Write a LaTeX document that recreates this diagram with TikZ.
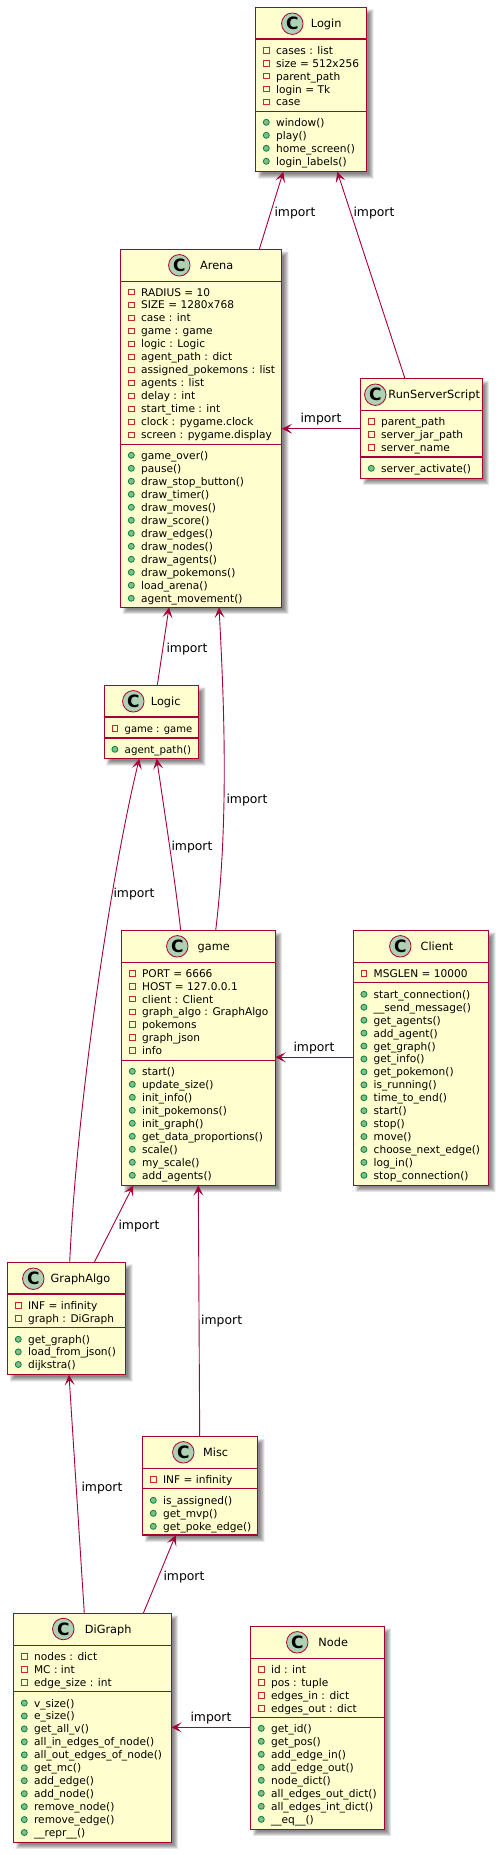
\documentclass[tikz,border=0pt]{standalone}
\usepackage{fontspec}
\setmainfont{DejaVu Sans}
\usetikzlibrary{arrows.meta}
\definecolor{umlline}{HTML}{A80036}
\definecolor{umlfill}{HTML}{FEFECE}
\definecolor{umlcirc}{HTML}{ADD1B2}
\definecolor{attrred}{HTML}{C82930}
\definecolor{methfill}{HTML}{84BE84}
\definecolor{methline}{HTML}{038048}
\newcounter{rowcnt}
\tikzset{
  classbox/.style={draw=umlline,fill=umlfill,line width=1.4pt,inner sep=0pt,outer sep=0pt},
  classline/.style={draw=umlline,line width=1.2pt},
  shadowlayer/.style={fill=black,opacity=.055,draw=none},
  ciconnode/.style={circle,draw=umlline,fill=umlcirc,line width=.8pt,minimum size=21.5pt,inner sep=0pt,
     font=\fontsize{17}{17}\bfseries\selectfont,text=black},
  titletext/.style={anchor=base,inner sep=0pt,font=\fontsize{11.3}{13}\selectfont,text=black},
  rowtext/.style={anchor=base west,inner sep=0pt,font=\fontsize{10.6}{13}\selectfont,text=black},
  attricon/.style={rectangle,draw=attrred,line width=.9pt,minimum size=5.6pt,inner sep=0pt},
  methicon/.style={circle,draw=methline,fill=methfill,line width=.8pt,minimum size=6pt,inner sep=0pt},
  edgeline/.style={draw=umlline,line width=.9pt,-{Stealth[length=10.5pt,width=10pt,inset=5pt]}},
  importlabel/.style={anchor=base west,inner sep=0pt,font=\fontsize{12.4}{14}\selectfont,text=black},
}
% name, x1, y1, x2, y2, header sep y, attr sep y
\newcommand{\umlclass}[7]{%
  \pgfmathsetlengthmacro{\bw}{#4-#2}\pgfmathsetlengthmacro{\bh}{#5-#3}%
  \foreach \d in {2.5,2,1.5,1,0.5,0,-0.5,-1,-1.5,-2,-2.5}{%
    \fill[shadowlayer] ({#2+4.5-\d},{#3+4.5-\d}) rectangle ({#4+4.5+\d},{#5+4.5+\d});}%
  \node[classbox,anchor=north west,minimum width=\bw,minimum height=\bh] (#1) at (#2,#3) {};%
  \draw[classline] (#2,#6) -- (#4,#6);%
  \draw[classline] (#2,#7) -- (#4,#7);%
}
% name, circle x, y, text centre x, title
\newcommand{\umltitle}[5]{%
  \node[ciconnode] (#1-c) at (#2,#3) {C};%
  \node[titletext] (#1-t) at (#4,#3+4.2) {#5};%
}
% left x, first y, step, list
\newcommand{\umlattrs}[4]{%
  \foreach \t [count=\i from 0] in {#4}{%
    \stepcounter{rowcnt}%
    \pgfmathsetmacro{\yy}{#2+#3*\i}%
    \node[attricon] (ia\arabic{rowcnt}) at (#1+10.6,\yy) {};%
    \node[rowtext] (ra\arabic{rowcnt}) at (#1+20.2,\yy+4) {\t};%
  }%
}
\newcommand{\umlmeths}[4]{%
  \foreach \t [count=\i from 0] in {#4}{%
    \stepcounter{rowcnt}%
    \pgfmathsetmacro{\yy}{#2+#3*\i}%
    \node[methicon] (im\arabic{rowcnt}) at (#1+10.6,\yy) {};%
    \node[rowtext] (rm\arabic{rowcnt}) at (#1+20.2,\yy+4) {\t};%
  }%
}
\begin{document}
\begin{tikzpicture}[x=1pt,y=-1pt]
\useasboundingbox (0,0) rectangle (501,1855);

% Login
\umlclass{login}{255.7}{7.3}{366.7}{171.7}{39}{111.3}
\umltitle{login}{292.3}{23.7}{326.2}{Login}
\umlattrs{255.7}{50.3}{12.9}{cases : list,size = 512x256,parent\_path,login = Tk,case}
\umlmeths{255.7}{122.3}{13}{window(),play(),home\_screen(),login\_labels()}

% Arena
\umlclass{arena}{120.7}{249.3}{281.7}{607.3}{281.7}{444.3}
\umltitle{arena}{179.3}{265.3}{216.7}{Arena}
\umlattrs{120.7}{292}{12.98}{RADIUS = 10,SIZE = 1280x768,case : int,game : game,logic : Logic,agent\_path : dict,assigned\_pokemons : list,agents : list,delay : int,start\_time : int,clock : pygame.clock,screen : pygame.display}
\umlmeths{120.7}{455.3}{13}{game\_over(),pause(),draw\_stop\_button(),draw\_timer(),draw\_moves(),draw\_score(),draw\_edges(),draw\_nodes(),draw\_agents(),draw\_pokemons(),load\_arena(),agent\_movement()}

% RunServerScript
\umlclass{rss}{360.7}{378.7}{482.3}{478.3}{410.3}{457}
\umltitle{rss}{375.3}{394.7}{434.2}{RunServerScript}
\umlattrs{360.7}{421.3}{13}{parent\_path,server\_jar\_path,server\_name}
\umlmeths{360.7}{468.3}{13}{server\_activate()}

% Logic
\umlclass{logic}{104.3}{685.3}{198.7}{758.7}{717}{738}
\umltitle{logic}{133.3}{701.3}{165.7}{Logic}
\umlattrs{104.3}{728.3}{13}{\fontsize{10}{13}\selectfont game : game}
\umlmeths{104.3}{749.3}{13}{\fontsize{10.3}{13}\selectfont agent\_path()}

% game
\umlclass{game}{121.7}{930.3}{275.3}{1185.3}{962.3}{1060.3}
\umltitle{game}{177.3}{946.3}{213.7}{game}
\umlattrs{121.7}{973.3}{12.85}{PORT = 6666,HOST = 127.0.0.1,client : Client,graph\_algo : GraphAlgo,pokemons,graph\_json,info}
\umlmeths{121.7}{1071.3}{13}{start(),update\_size(),init\_info(),init\_pokemons(),init\_graph(),get\_data\_proportions(),scale(),my\_scale(),add\_agents()}

% Client
\umlclass{client}{353.3}{930.3}{488.7}{1185.3}{962.3}{982.3}
\umltitle{client}{400.3}{946.3}{437}{Client}
\umlattrs{353.3}{973.3}{13}{MSGLEN = 10000}
\umlmeths{353.3}{994.3}{12.93}{start\_connection(),\_\_send\_message(),get\_agents(),add\_agent(),get\_graph(),get\_info(),get\_pokemon(),is\_running(),time\_to\_end(),start(),stop(),move(),choose\_next\_edge(),log\_in(),stop\_connection()}

% GraphAlgo
\umlclass{graphalgo}{7.7}{1262.3}{125.7}{1374.7}{1294}{1327.3}
\umltitle{graphalgo}{33.3}{1278.7}{80.5}{GraphAlgo}
\umlattrs{7.7}{1305.3}{13}{INF = infinity,graph : DiGraph}
\umlmeths{7.7}{1339.3}{12.6}{get\_graph(),load\_from\_json(),dijkstra()}

% Misc
\umlclass{misc}{142.7}{1436.7}{257.7}{1535}{1468.3}{1488.3}
\umltitle{misc}{183.3}{1452.3}{215.7}{Misc}
\umlattrs{142.7}{1479.3}{13}{INF = infinity}
\umlmeths{142.7}{1500.3}{13}{is\_assigned(),get\_mvp(),get\_poke\_edge()}

% DiGraph
\umlclass{digraph}{13.7}{1613.3}{171.3}{1842.3}{1645.7}{1691.7}
\umltitle{digraph}{63.3}{1629}{108.2}{DiGraph}
\umlattrs{13.7}{1656.3}{13}{nodes : dict,MC : int,edge\_size : int}
\umlmeths{13.7}{1703}{12.95}{v\_size(),e\_size(),get\_all\_v(),all\_in\_edges\_of\_node(),all\_out\_edges\_of\_node(),get\_mc(),add\_edge(),add\_node(),remove\_node(),remove\_edge(),\_\_repr\_\_()}

% Node
\umlclass{node}{250.7}{1626.3}{384.3}{1829.3}{1658.3}{1717.3}
\umltitle{node}{297.3}{1642.3}{333.2}{Node}
\umlattrs{250.7}{1669.3}{13}{id : int,pos : tuple,edges\_in : dict,edges\_out : dict}
\umlmeths{250.7}{1728.3}{13}{get\_id(),get\_pos(),add\_edge\_in(),add\_edge\_out(),node\_dict(),all\_edges\_out\_dict(),all\_edges\_int\_dict(),\_\_eq\_\_()}

% connectors
\draw[edgeline] (259.3,0 |- arena.north) -- (283.3,0 |- login.south);
\draw[edgeline] (405,0 |- rss.north) -- (337.3,0 |- login.south);
\draw[edgeline] (rss.west |- 0,428.7) -- (arena.east |- 0,428.7);
\draw[edgeline] (157.3,0 |- logic.north) -- (169,0 |- arena.south);
\draw[edgeline] (215.7,0 |- game.north) .. controls (229,820) and (224,700) .. (219,0 |- arena.south);
\draw[edgeline] (180.7,0 |- game.north) .. controls (175,880) and (165,815) .. (156.7,0 |- logic.south);
\draw[edgeline] (69.7,0 |- graphalgo.north) .. controls (77,1100) and (112,870) .. (139.3,0 |- logic.south);
\draw[edgeline] (client.west |- 0,1057.3) -- (game.east |- 0,1057.3);
\draw[edgeline] (94.3,0 |- graphalgo.north) -- (133.3,0 |- game.south);
\draw[edgeline] (199.7,0 |- misc.north) -- (198.3,0 |- game.south);
\draw[edgeline] (84.3,0 |- digraph.north) -- (69,0 |- graphalgo.south);
\draw[edgeline] (143.3,0 |- digraph.north) -- (175.7,0 |- misc.south);
\draw[edgeline] (node.west |- 0,1727.3) -- (digraph.east |- 0,1727.3);

% labels
\node[importlabel] (la1) at (274.3,216) {import};
\node[importlabel] (la2) at (353.3,216) {import};
\node[importlabel] (la3) at (300.3,422) {import};
\node[importlabel] (la4) at (166.3,652) {import};
\node[importlabel] (la5) at (226.3,803) {import};
\node[importlabel] (la6) at (171.3,850) {import};
\node[importlabel] (la7) at (113.3,897) {import};
\node[importlabel] (la8) at (293.3,1051) {import};
\node[importlabel] (la9) at (118.3,1229) {import};
\node[importlabel] (la10) at (201,1324) {import};
\node[importlabel] (la11) at (81.3,1491) {import};
\node[importlabel] (la12) at (163.3,1580) {import};
\node[importlabel] (la13) at (190.3,1721) {import};
\end{tikzpicture}
\end{document}
